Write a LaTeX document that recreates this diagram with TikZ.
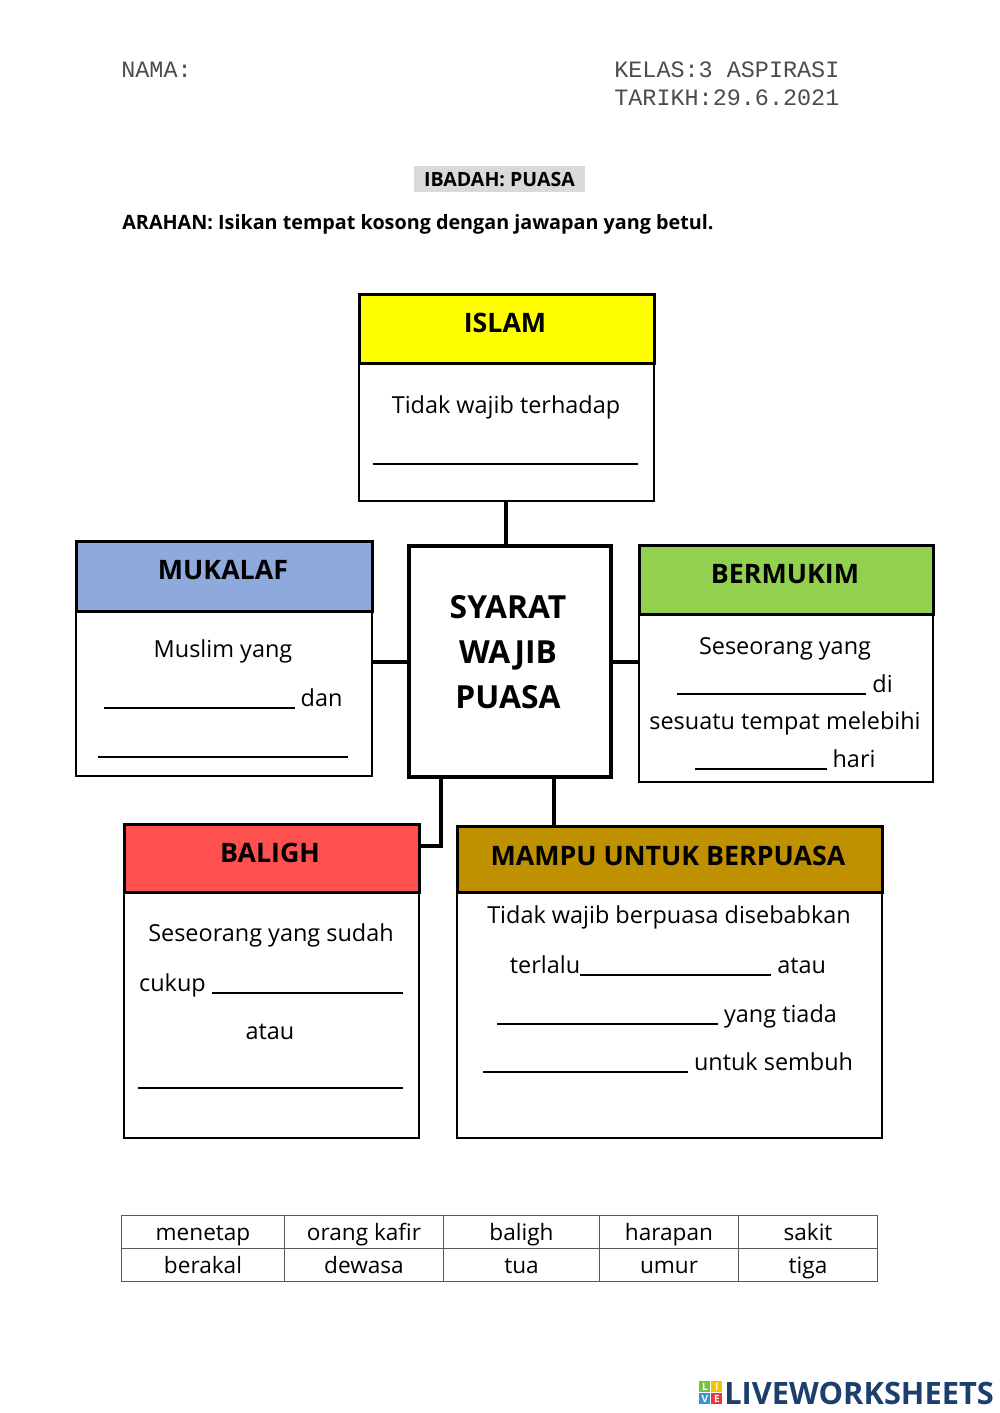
\documentclass[tikz,border=0pt]{standalone}
\usepackage{fontspec}
\setmainfont{Open Sans}
\setmonofont{Liberation Mono}
\usetikzlibrary{positioning}

\newlength\pxl
\setlength\pxl{0.021cm}
\newcommand\blank[1]{\rule[-1.5pt]{#1\pxl}{0.7pt}}

\definecolor{islamyellow}{HTML}{FFFF00}
\definecolor{mukalafblue}{HTML}{8EA9DB}
\definecolor{mukimgreen}{HTML}{92D050}
\definecolor{balighred}{HTML}{FF5050}
\definecolor{mampugold}{HTML}{BF9000}
\definecolor{logonavy}{HTML}{1C3F6E}
\definecolor{logogreen}{HTML}{7AC143}
\definecolor{logoyellow}{HTML}{F5C400}
\definecolor{logoblue}{HTML}{3D8FD8}
\definecolor{logored}{HTML}{E53A35}

\begin{document}
\begin{tikzpicture}[x=0.021cm, y=-0.021cm,
  boxsize/.style 2 args={minimum width={#1*\pxl}, minimum height={#2*\pxl}},
  headbox/.style={draw, line width=1.8pt, anchor=north west, inner sep=0pt},
  bodybox/.style={draw, line width=0.9pt, anchor=north west, inner sep=0pt, fill=white},
  headtext/.style={anchor=base, inner sep=0pt, font=\fontsize{16}{19}\selectfont\bfseries},
  bodytext/.style={anchor=base, inner sep=0pt, font=\fontsize{14}{17}\selectfont},
  toptext/.style={anchor=base west, inner sep=0pt, text=black!70, font=\fontsize{14}{17}\selectfont\ttfamily},
  link/.style={line width=2.4pt},
  cell/.style={draw=black!65, line width=0.6pt, anchor=north west, inner sep=0pt,
    text height=11pt, text depth=1pt, font=\fontsize{13.5}{16}\selectfont},
  logosq/.style={fill=#1, anchor=north west, inner sep=0pt, minimum size={11*\pxl},
    text=white, font=\fontsize{6}{6}\selectfont\bfseries}
]
\useasboundingbox[fill=white] (0,0) rectangle (1000,1413);

% header of the sheet
\node[toptext] (nama) at (121,77) {NAMA:};
\node[toptext] (kelas) at (614,77) {KELAS:3 ASPIRASI};
\node[toptext] (tarikh) at (614,105) {TARIKH:29.6.2021};
\fill[black!15] (414,166) rectangle (585,192);
\node[anchor=base, inner sep=0pt, font=\fontsize{11.7}{14}\selectfont\bfseries] (tajuk) at (499.5,186) {IBADAH: PUASA};
\node[anchor=base west, inner sep=0pt, font=\fontsize{11.8}{14}\selectfont\bfseries] (arahan) at (122,229)
  {ARAHAN: Isikan tempat kosong dengan jawapan yang betul.};

% boxes
\node[bodybox, boxsize={295}{207}] (islambody) at (358,293) {};
\node[headbox, fill=islamyellow, boxsize={295}{69}] (islam) at (358,293) {};
\node[bodybox, boxsize={296}{235}] (mukalafbody) at (75,540) {};
\node[headbox, fill=mukalafblue, boxsize={296}{70}] (mukalaf) at (75,540) {};
\node[bodybox, boxsize={294}{237}] (mukimbody) at (638,544) {};
\node[headbox, fill=mukimgreen, boxsize={294}{69}] (mukim) at (638,544) {};
\node[bodybox, boxsize={295}{314}] (balighbody) at (123,823) {};
\node[headbox, fill=balighred, boxsize={295}{68}] (baligh) at (123,823) {};
\node[bodybox, boxsize={425}{312}] (mampubody) at (456,825) {};
\node[headbox, fill=mampugold, boxsize={425}{66}] (mampu) at (456,825) {};
\node[draw, line width=2.6pt, anchor=north west, inner sep=0pt, boxsize={202}{231}] (centre) at (407,544) {};

% connectors
\draw[link] (islambody.south) -- (islambody.south |- centre.north);
\draw[link] (centre.west) -- (centre.west -| mukalafbody.east);
\draw[link] (centre.east) -- (centre.east -| mukimbody.west);
\draw[link] ([xshift={-69*\pxl}]centre.south) |- ([yshift={13*\pxl}]baligh.east);
\draw[link] ([xshift={44*\pxl}]centre.south) -- ([xshift={44*\pxl}]centre.south |- mampu.north);

% titles
\node[headtext] (islamlabel) at (505,332) {ISLAM};
\node[headtext] (mukalaflabel) at (223,579) {MUKALAF};
\node[headtext] (mukimlabel) at (785,583) {BERMUKIM};
\node[headtext] (balighlabel) at (270,862) {BALIGH};
\node[headtext] (mampulabel) at (668,865) {MAMPU UNTUK BERPUASA};
\node[align=center, inner sep=0pt, font=\fontsize{19}{26.8}\selectfont\bfseries] (centrelabel) at (508,652)
  {SYARAT\\WAJIB\\PUASA};

% ISLAM
\node[bodytext] (islam1) at (506,413) {Tidak wajib terhadap};
\node[bodytext] (islam2) at (505,462) {\blank{265}};
% MUKALAF
\node[bodytext] (mukalaf1) at (223,657) {Muslim yang};
\node[bodytext] (mukalaf2) at (223,706) {\blank{191} dan};
\node[bodytext] (mukalaf3) at (223,755) {\blank{250}};
% BERMUKIM
\node[bodytext] (mukim1) at (785,654) {Seseorang yang};
\node[bodytext] (mukim2) at (785,692) {\blank{189} di};
\node[bodytext] (mukim3) at (785,729) {sesuatu tempat melebihi};
\node[bodytext] (mukim4) at (785,767) {\blank{132} hari};
% BALIGH
\node[bodytext] (baligh1) at (271,941) {Seseorang yang sudah};
\node[bodytext] (baligh2) at (271,991) {cukup \blank{191}};
\node[bodytext] (baligh3) at (270,1039) {atau};
\node[bodytext] (baligh4) at (270,1086) {\blank{265}};
% MAMPU
\node[bodytext] (mampu1) at (669,923) {Tidak wajib berpuasa disebabkan};
\node[bodytext] (mampu2) at (668,973) {terlalu\blank{191} atau};
\node[bodytext] (mampu3) at (667,1022) {\blank{221} yang tiada};
\node[bodytext] (mampu4) at (668,1070) {\blank{205} untuk sembuh};

% word bank
\foreach \word/\l/\w [count=\i] in {menetap/121/163, orang kafir/284/159, baligh/443/156, harapan/599/139, sakit/738/139}
  \node[cell, boxsize={\w}{33}] (atas\i) at (\l,1215) {\word};
\foreach \word/\l/\w [count=\i] in {berakal/121/163, dewasa/284/159, tua/443/156, umur/599/139, tiga/738/139}
  \node[cell, boxsize={\w}{33}] (bawah\i) at (\l,1248) {\word};

% logo
\foreach \c/\lt/\dx/\dy in {logogreen/L/0/0, logoyellow/I/1/0, logoblue/V/0/1, logored/E/1/1}
  \node[logosq=\c] (sq\lt) at (699+\dx*12, 1381+\dy*12) {\lt};
\node[anchor=base west, inner sep=0pt, text=logonavy, font=\fontsize{18.4}{21}\selectfont\bfseries] (logotext) at (724,1404) {LIVEWORKSHEETS};
\end{tikzpicture}
\end{document}
